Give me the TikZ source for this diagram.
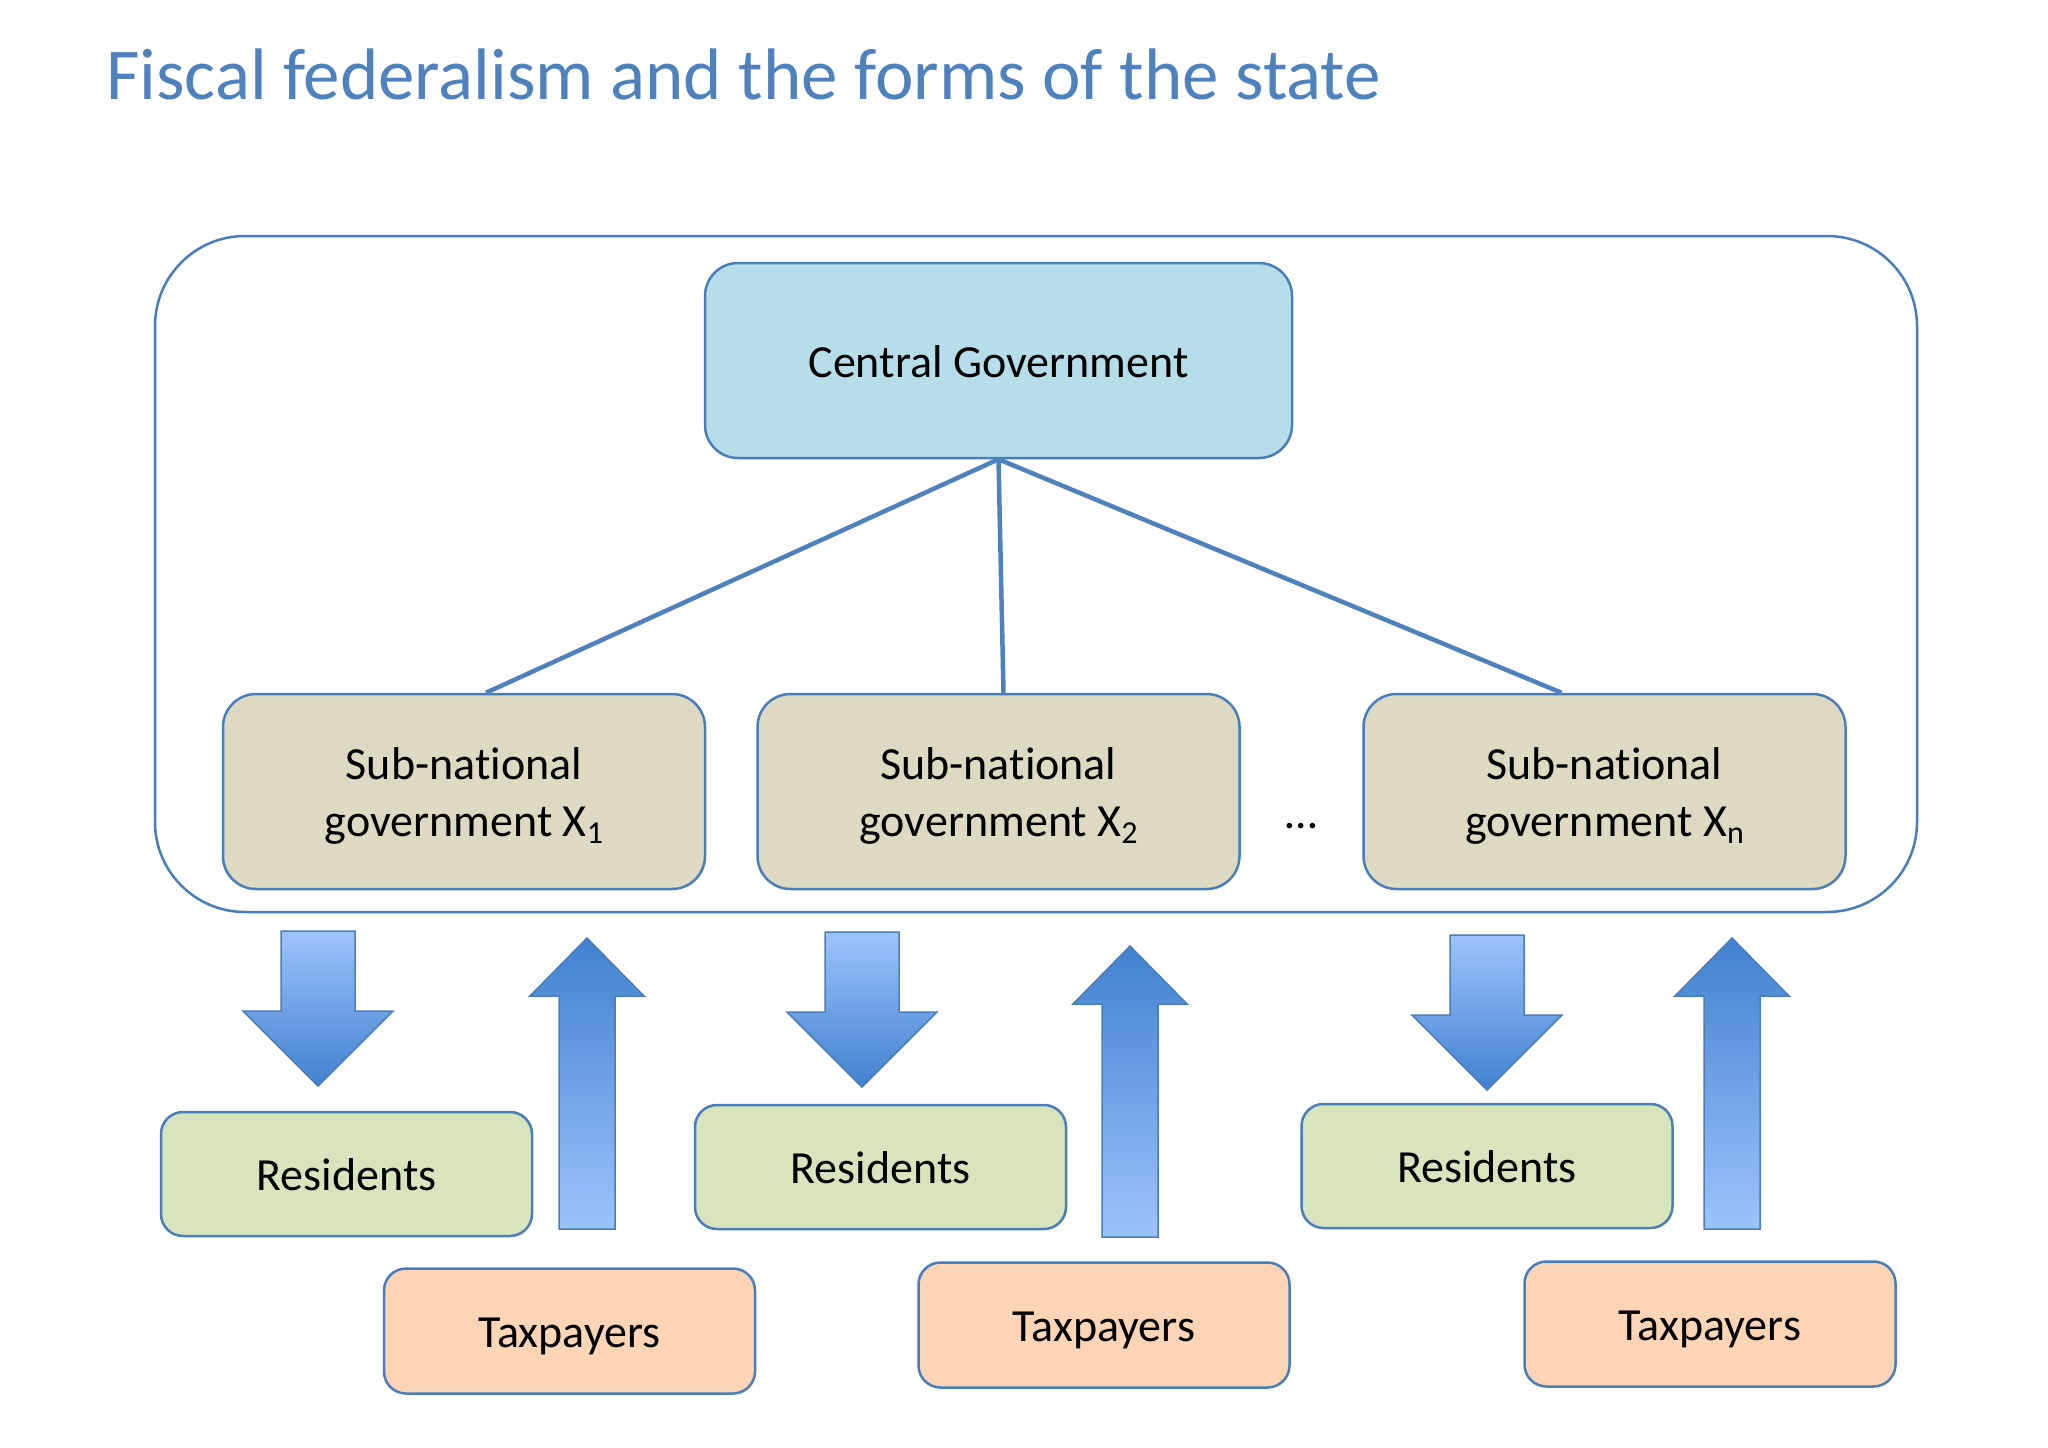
\documentclass[tikz,border=0pt]{standalone}
\usepackage{fontspec}
\setmainfont[Ligatures=NoCommon]{Carlito}
\definecolor{titleblue}{HTML}{4F81BD}
\definecolor{edgeblue}{HTML}{4A7EBB}
\definecolor{cgfill}{HTML}{B7DEE8}
\definecolor{subfill}{HTML}{DDD9C3}
\definecolor{resfill}{HTML}{D7E4BD}
\definecolor{taxfill}{HTML}{FBD5B5}
\definecolor{arrlight}{HTML}{9DC3FB}
\definecolor{arrdark}{HTML}{4281CF}
\newcommand\boxstrut{\rule[-0.25em]{0pt}{1.22em}}
\newcommand\subsc[1]{\raisebox{-0.14em}{\fontsize{32}{32}\selectfont #1}}
\tikzset{
  boxtext/.style={font=\fontsize{46}{56.12}\selectfont, text=black, align=center},
  cgbox/.style={draw=edgeblue, line width=2.5pt, fill=cgfill, rounded corners=33pt,
    minimum width=587pt, minimum height=195pt, boxtext},
  subbox/.style={draw=edgeblue, line width=2.5pt, fill=subfill, rounded corners=33pt,
    minimum width=482pt, minimum height=195pt, boxtext},
  resbox/.style={draw=edgeblue, line width=2.5pt, fill=resfill, rounded corners=22pt,
    minimum width=371pt, minimum height=124pt, boxtext},
  taxbox/.style={draw=edgeblue, line width=2.5pt, fill=taxfill, rounded corners=22pt,
    minimum width=371pt, minimum height=125pt, boxtext},
  outerbox/.style={draw=edgeblue, line width=2.5pt, rounded corners=90pt,
    minimum width=1762pt, minimum height=676pt},
  conn/.style={draw=titleblue, line width=4.5pt},
  blockarrow/.style={draw=edgeblue, line width=1.5pt, line join=miter},
  downarr/.pic={
    \path[blockarrow, top color=arrlight, bottom color=arrdark]
      (-37,0) -- (37,0) -- (37,80) -- (75,80) -- (0,155) -- (-75,80) -- (-37,80) -- cycle;
  },
  uparr/.pic={
    \path[blockarrow, top color=arrdark, bottom color=arrlight]
      (0,0) -- (57,58) -- (28,58) -- (28,291) -- (-28,291) -- (-28,58) -- (-57,58) -- cycle;
  }
}
\begin{document}
\begin{tikzpicture}[x=1pt,y=-1pt]
\useasboundingbox[fill=white] (0,0) rectangle (2048,1448);

\node[anchor=base west, text=titleblue, font=\fontsize{73}{88}\selectfont, inner sep=0pt]
  (title) at (106,99) {Fiscal federalism and the forms of the state};

\node[outerbox] (state) at (1036,574) {};

\node[cgbox] (cg) at (998.5,360.5) {\boxstrut Central Government};

\node[subbox] (s1) at (464,791.5) {\boxstrut Sub-national\\\boxstrut government X\subsc{1}};
\node[subbox] (s2) at (998.5,791.5) {\boxstrut Sub-national\\\boxstrut government X\subsc{2}};
\node[subbox] (s3) at (1604.5,791.5) {\boxstrut Sub-national\\\boxstrut government X\subsc{n}};
\node[anchor=base, boxtext, inner sep=0pt] (dots) at (1301,828) {\dots};

\draw[conn] (cg.south) -- ([xshift=22pt]s1.north);
\draw[conn] (cg.south) -- ([xshift=5pt]s2.north);
\draw[conn] (cg.south) -- ([xshift=-43pt]s3.north);

\node[resbox] (r1) at (346.5,1174) {\boxstrut Residents};
\node[resbox] (r2) at (880.5,1167) {\boxstrut Residents};
\node[resbox] (r3) at (1487,1166) {\boxstrut Residents};

\node[taxbox] (t1) at (569.5,1331) {\boxstrut Taxpayers};
\node[taxbox] (t2) at (1104,1325) {\boxstrut Taxpayers};
\node[taxbox] (t3) at (1710,1324) {\boxstrut Taxpayers};

\pic at (318,931) {downarr};
\pic at (862,932) {downarr};
\pic at (1487,935) {downarr};

\pic at (587,938) {uparr};
\pic at (1130,946) {uparr};
\pic at (1732,938) {uparr};
\end{tikzpicture}
\end{document}
